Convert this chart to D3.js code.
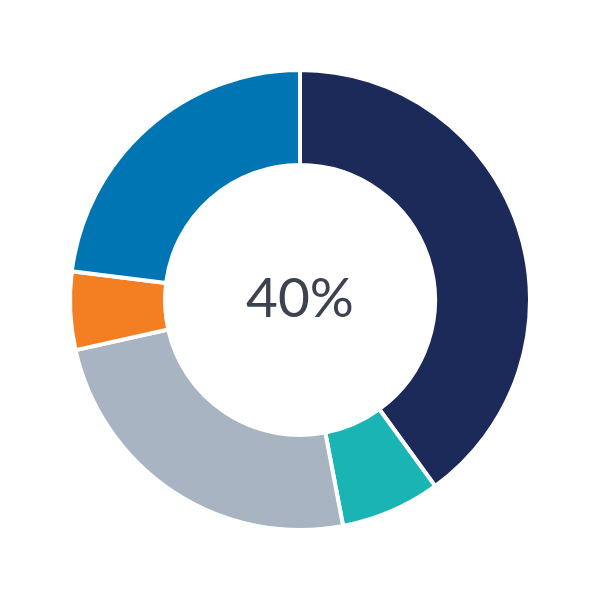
<!DOCTYPE html>
<html>
<head>
<meta charset="utf-8">
<script src="https://cdn.jsdelivr.net/npm/d3@7"></script>
<style>
  html, body { margin: 0; padding: 0; background: #fff; }
  .center-label { font-family: Lato, 'Open Sans', sans-serif; fill: #3c434f; }
</style>
</head>
<body>
<div id="donut"></div>
<script>
// Data
const categories = ['A', 'B', 'C', 'D', 'E'];
const values = [40, 7, 24.5, 5.5, 23];
const colorList = ['#1b2a59', '#1ab4b5', '#a8b4c2', '#f37f22', '#0075b4'];
const centerLabel = '40%';

const svgW = 600;
const svgH = 600;
const outerR = 230;
const innerR = 135;

const container = d3.select('#donut');
const svg = container.append('svg')
  .attr('width', svgW)
  .attr('height', svgH)
  .attr('viewBox', `0 0 ${svgW} ${svgH}`);

const g = svg.append('g')
  .attr('transform', `translate(${svgW / 2}, ${svgH / 2})`);

const color = d3.scaleOrdinal().domain(categories).range(colorList);

const pie = d3.pie()
  .sort(null)
  .value((d, i) => values[i]);

const arc = d3.arc()
  .innerRadius(innerR)
  .outerRadius(outerR);

g.selectAll('path.slice')
  .data(pie(categories))
  .enter()
  .append('path')
  .attr('class', 'slice')
  .attr('d', arc)
  .attr('fill', (d) => color(d.data))
  .attr('stroke', '#fff')
  .attr('stroke-width', 4);

// Center label
g.append('text')
  .attr('class', 'center-label')
  .attr('x', 0)
  .attr('y', 17)
  .attr('text-anchor', 'middle')
  .attr('font-size', 55)
  .text(centerLabel);
</script>
</body>
</html>
